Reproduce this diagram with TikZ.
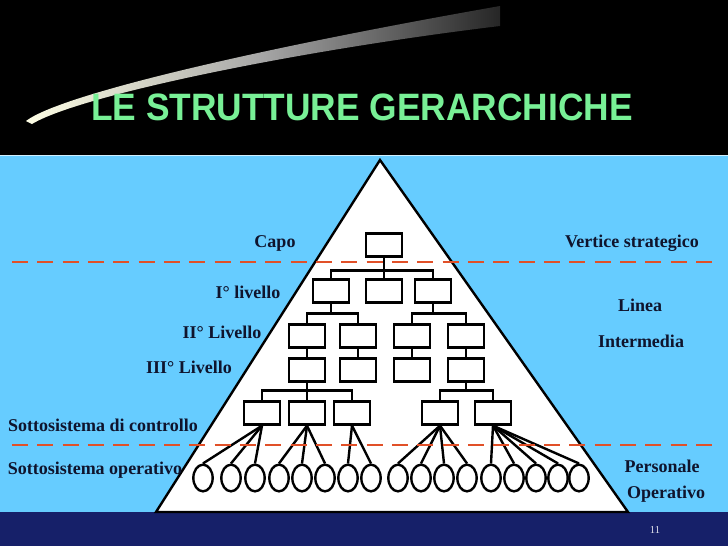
\documentclass[tikz,border=0pt]{standalone}
\usepackage{fontspec}
\setmainfont{Liberation Serif}
\newfontfamily\titlefont{Liberation Sans}
\usetikzlibrary{shapes.geometric}
\begin{document}
\begin{tikzpicture}[x=0.75pt,y=-0.75pt,
  bx/.style={draw=black,line width=2pt,fill=white,minimum width=27pt,minimum height=17pt,inner sep=0pt},
  cir/.style={draw=black,line width=1.8pt,fill=white,ellipse,minimum width=14.5pt,minimum height=20pt,inner sep=0pt},
  ln/.style={line width=1.8pt},
  dsh/.style={draw={rgb,255:red,225;green,80;blue,40},line width=2pt,dash pattern=on 12pt off 7pt},
  lab/.style={font=\fontsize{13.5}{15}\selectfont\bfseries,text={rgb,255:red,15;green,20;blue,45}}]
\definecolor{sky}{RGB}{102,204,255}
\definecolor{navy}{RGB}{22,32,105}
\useasboundingbox (0,0) rectangle (728,546);
\fill[black] (0,0) rectangle (728,155);
\fill[sky] (0,155) rectangle (728,512);
\draw[white!70!sky,line width=1pt] (0,155.5) -- (728,155.5);
\fill[navy] (0,512) rectangle (728,546);
% swoosh
\shade[left color=white!90!yellow,right color=black!85,middle color=gray!70] (26,121) .. controls (60,95) and (250,50) .. (500,6) -- (500,26) .. controls (300,50) and (80,95) .. (32,124) -- cycle;
\node[font=\titlefont\bfseries\fontsize{26.5}{30}\selectfont,text={rgb,255:red,120;green,240;blue,150},yscale=1.08] (title) at (362,107) {LE STRUTTURE GERARCHICHE};
\node[font=\fontsize{8}{10}\selectfont,text=white!85!navy] (pg) at (655,530) {11};
% pyramid
\draw[fill=white,line width=1.8pt] (380,160) -- (156,512) -- (628,512) -- cycle;
% boxes
\node[bx] (t) at (384,245) {};
\foreach \n/\x in {a/331,b/384,c/433} \node[bx] (\n) at (\x,291) {};
\foreach \n/\x in {d/307,e/358,f/412,g/466} {\node[bx] (\n) at (\x,336) {}; \node[bx] (\n3) at (\x,370) {};}
\foreach \n/\x in {h/262,i/307,j/352,k/440,l/493} \node[bx] (\n) at (\x,413) {};
\draw[ln] (t.south) -- ++(0,13) coordinate (t1);
\draw[ln] (a.north) |- (t1) -| (c.north); \draw[ln] (t1) -- (b.north);
\draw[ln] (a.south) -- ++(0,10) coordinate (a1); \draw[ln] (d.north) |- (a1) -| (e.north);
\draw[ln] (c.south) -- ++(0,10) coordinate (c1); \draw[ln] (f.north) |- (c1) -| (g.north);
\foreach \n in {d,e,f,g} \draw[ln] (\n.south) -- (\n3.north);
\draw[ln] (d3.south) -- ++(0,8) coordinate (d1); \draw[ln] (h.north) |- (d1) -| (j.north); \draw[ln] (d1) -- (i.north);
\draw[ln] (g3.south) -- ++(0,8) coordinate (g1); \draw[ln] (k.north) |- (g1) -| (l.north);
% circles
\foreach \k/\x/\p in {1/203/h,2/231/h,3/255/h,4/279/i,5/302/i,6/325/i,7/348/j,8/371/j,9/398/k,10/421/k,11/444/k,12/467/k,13/491/l,14/514/l,15/536/l,16/558/l,17/579/l} {
  \node[cir] (c\k) at (\x,478) {};
  \draw[ln] (\p.south) -- (c\k.north);
}
% dashed lines
\draw[dsh] (12,262) -- (715,262);
\draw[dsh] (12,445) -- (715,445);
% labels
\node[lab] (l1) at (275,243) {Capo};
\node[lab] (l2) at (632,243) {Vertice strategico};
\node[lab] (l3) at (248,292) {I° livello};
\node[lab] (l4) at (640,305) {Linea};
\node[lab] (l5) at (222,332) {II° Livello};
\node[lab] (l6) at (641,341) {Intermedia};
\node[lab] (l7) at (189,367) {III° Livello};
\node[lab] (l8) at (103,425) {Sottosistema di controllo};
\node[lab] (l9) at (95,470) {Sottosistema operativo};
\node[lab] (l10) at (662,466) {Personale};
\node[lab] (l11) at (666,494) {Operativo};
\end{tikzpicture}
\end{document}
